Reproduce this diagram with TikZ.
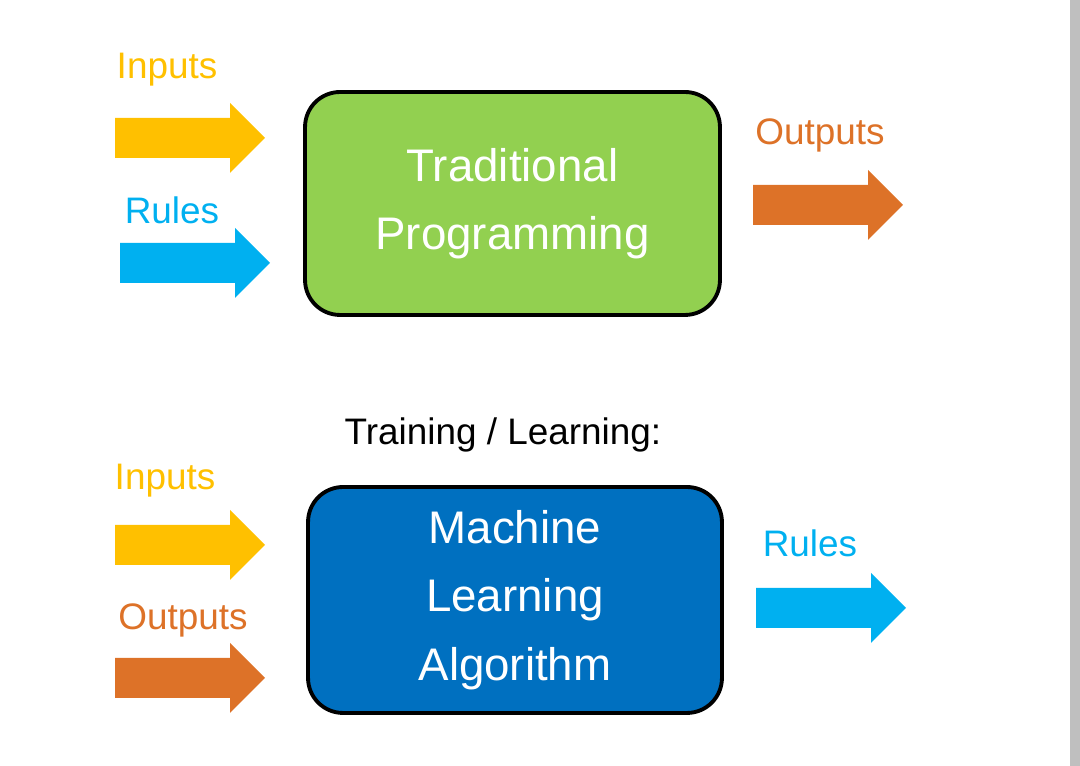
\documentclass[tikz,border=0pt]{standalone}
\usepackage{fontspec}
\setmainfont{Liberation Sans}
\usetikzlibrary{positioning}
\definecolor{inyellow}{HTML}{FFC000}
\definecolor{ruleblue}{HTML}{00B0F0}
\definecolor{outorange}{HTML}{DD7228}
\definecolor{tpgreen}{HTML}{92D050}
\definecolor{mlblue}{HTML}{0070C0}
% block arrow: left end x, centre y, colour
\newcommand{\blockarrow}[3]{%
  \fill[#3] (#1,#2-20) -- ++(115,0) -- ++(0,-15) -- ++(35,35) -- ++(-35,35) -- ++(0,-15) -- ++(-115,0) -- cycle;}
\begin{document}
\begin{tikzpicture}[x=0.02cm, y=0.02cm,
    lbl/.style={font=\fontsize{21}{24}\selectfont},
    prog/.style={draw=black, line width=2.2pt, rounded corners=0.7cm, text=white,
      align=center, font=\fontsize{26}{39}\selectfont}]
    \useasboundingbox (0,0) rectangle (1080,766);
    \fill[gray!50] (1070,0) rectangle (1080,766);
    % traditional programming
    \node[prog, fill=tpgreen, minimum width=8.3cm, minimum height=4.46cm] (trad) at (512.5,562.5) {Traditional\\Programming};
    \node[lbl, text=inyellow] (in1) at (167,696) {Inputs};
    \node[lbl, text=ruleblue] (ru1) at (172,556) {Rules};
    \node[lbl, text=outorange] (out1) at (820,631) {Outputs};
    \blockarrow{115}{628}{inyellow}
    \blockarrow{120}{503}{ruleblue}
    \blockarrow{753}{561}{outorange}
    % machine learning
    \node[lbl, text=black] (train) at (503,331) {Training / Learning:};
    \node[prog, fill=mlblue, minimum width=8.28cm, minimum height=4.52cm] (ml) at (515,166) {Machine\\Learning\\Algorithm};
    \node[lbl, text=inyellow] (in2) at (165,285) {Inputs};
    \node[lbl, text=outorange] (out2) at (183,146) {Outputs};
    \node[lbl, text=ruleblue] (ru2) at (810,223) {Rules};
    \blockarrow{115}{221}{inyellow}
    \blockarrow{115}{88}{outorange}
    \blockarrow{756}{158}{ruleblue}
\end{tikzpicture}
\end{document}
